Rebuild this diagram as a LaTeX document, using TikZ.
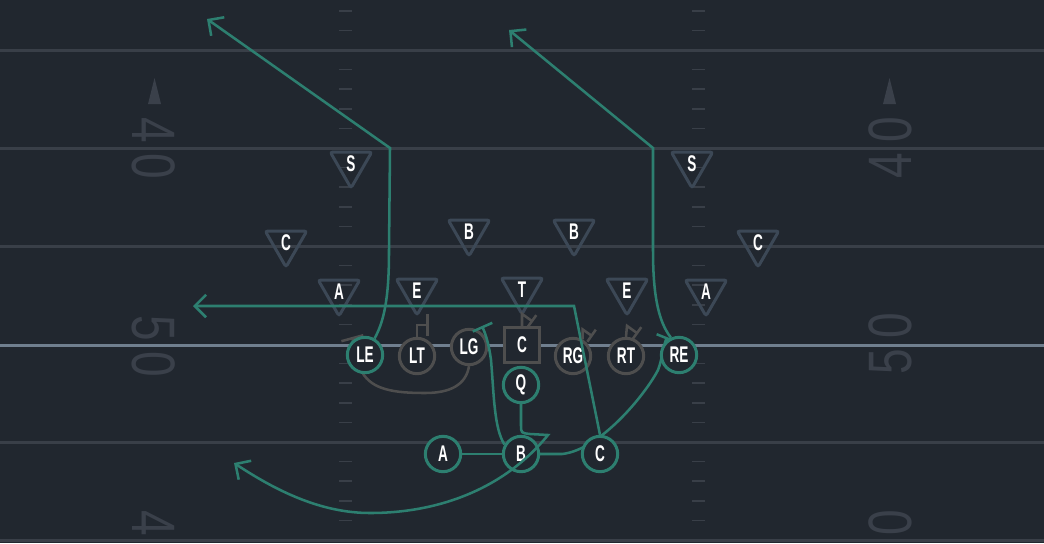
\documentclass[tikz,border=0pt]{standalone}
\usepackage{fontspec}
\usetikzlibrary{arrows.meta,shapes.geometric,backgrounds}
\newfontfamily\tagfont[FakeStretch=0.6]{Liberation Sans}
\newfontfamily\yardfont[FakeStretch=0.75]{Liberation Sans}
\definecolor{fieldbg}{RGB}{33,39,47}
\definecolor{yardcol}{RGB}{57,63,72}
\definecolor{scrimcol}{RGB}{112,127,143}
\definecolor{numcol}{RGB}{58,64,74}
\definecolor{defcol}{RGB}{60,72,86}
\definecolor{routecol}{RGB}{45,127,112}
\definecolor{olcol}{RGB}{78,78,78}
\tikzset{
  yardline/.style={draw=yardcol, line width=2.25pt},
  hashmark/.style={draw=yardcol, line width=1.1pt},
  yardnum/.style={text=numcol, inner sep=0pt, font=\yardfont\fontsize{46}{46}\selectfont},
  offense/.style={circle, draw=routecol, fill=fieldbg, line width=2.25pt, minimum size=26.5pt, inner sep=0pt, text=white, font=\tagfont\bfseries\fontsize{17}{17}\selectfont},
  lineman/.style={offense, draw=olcol},
  defender/.style={regular polygon, regular polygon sides=3, shape border rotate=180, draw=defcol, line width=2.25pt, minimum size=36pt, inner sep=0pt, rounded corners=2pt, text=white, font=\tagfont\bfseries\fontsize{17}{17}\selectfont},
  route/.style={draw=routecol, line width=1.9pt, -{Straight Barb[length=8.5pt,width=17pt]}},
  blockroute/.style={draw=routecol, line width=1.9pt, -{Bar[width=16pt]}},
  olblock/.style={draw=olcol, line width=1.9pt, -{Bar[width=11pt]}}
}

\begin{document}
\begin{tikzpicture}[x=0.75pt, y=-0.75pt]
\useasboundingbox (0,0) rectangle (1044,543);
% Field:
\begin{scope}[on background layer]
\fill[fieldbg] (0,0) rectangle (1044,543);
\foreach \y in {50,148,246,442,540}
  \draw[yardline] (0,\y) -- (1044,\y);
\draw[yardline, draw=scrimcol] (0,345) -- (1044,345);
\foreach \m in {-1,...,4}
  \foreach \j in {1,...,4} {
    \draw[hashmark] (339,50+98*\m+19.6*\j) -- (352,50+98*\m+19.6*\j);
    \draw[hashmark] (692,50+98*\m+19.6*\j) -- (705,50+98*\m+19.6*\j);
  }
\end{scope}
\node (n40l) [yardnum, rotate=-90] at (154,148) {4\kern8pt 0};
\node (n50l) [yardnum, rotate=-90] at (154,346) {5\kern8pt 0};
\node (n45l) [yardnum, rotate=-90] at (154,541) {4\kern8pt 0};
\node (n40r) [yardnum, rotate=90] at (890,148) {4\kern8pt 0};
\node (n50r) [yardnum, rotate=90] at (890,344) {5\kern8pt 0};
\node (n45r) [yardnum, rotate=90] at (890,541) {4\kern8pt 0};
\fill[numcol] (154.5,78) -- (161,104) -- (148,104) -- cycle;
\fill[numcol] (889.5,78) -- (896,104) -- (883,104) -- cycle;

% Defense:
\node (SL) [defender] at (351,164) {S};
\node (SR) [defender] at (692,164) {S};
\node (CL) [defender] at (286,243) {C};
\node (CR) [defender] at (758,243) {C};
\node (BL) [defender] at (469,232) {B};
\node (BR) [defender] at (574,232) {B};
\node (AL) [defender] at (339,292) {A};
\node (AR) [defender] at (706,292) {A};
\node (EL) [defender] at (417,291) {E};
\node (ER) [defender] at (627,291) {E};
\node (DT) [defender] at (522,290) {T};

% Offense:
\node (LE) [offense] at (365,355) {LE};
\node (LT) [lineman] at (417,356) {LT};
\node (LG) [lineman] at (469,347) {LG};
\node (Cn) [lineman, rectangle] at (522,345) {C};
\node (RG) [lineman] at (573,356) {RG};
\node (RT) [lineman] at (626,356) {RT};
\node (RE) [offense] at (679,355) {RE};
\node (QB) [offense] at (521,385) {Q};
\node (HA) [offense] at (443,454) {A};
\node (HB) [offense] at (521,454) {B};
\node (HC) [offense] at (600,454) {C};

\coordinate (leEnd) at (207,19);
\coordinate (reEnd) at (509,30);
\coordinate (cEnd) at (193,306);
\coordinate (qEnd) at (234,463);
\coordinate (bEnd) at (482,326);
\coordinate (rebEnd) at (667,337);
\coordinate (lgEnd) at (352,337);

% Routes under the players:
\begin{scope}[on background layer]
\draw[olblock, -{Bar[width=17pt]}] (LG.south) .. controls (466,385) and (450,393) .. (425,393) .. controls (395,393) and (372,390) .. (362,372) .. controls (357,362) and (355,348) .. (lgEnd);
\draw[blockroute] (HB.east) -- (562,454) .. controls (600,450) and (645,395) .. (658,370) .. controls (662,360) and (663,347) .. (rebEnd);
\end{scope}

% Routes:
\draw[route] (LE.60) .. controls (386,318) and (389,290) .. (389,250) -- (390,148) -- (leEnd);
\draw[route] (RE.115) .. controls (657,320) and (653,290) .. (653,250) -- (653,148) -- (reEnd);
\draw[route] (HC.north) -- (574,306) -- (cEnd);
\draw[route] (QB.south) -- (521,425) .. controls (521,433) .. (530,434) -- (548,435) .. controls (505,488) and (440,513) .. (370,513) .. controls (320,513) and (275,490) .. (qEnd);
\draw[blockroute] (HB.150) .. controls (494,428) and (494,395) .. (491,360) .. controls (489,345) and (486,335) .. (bEnd);
\draw[route, -] (HA) -- (HB);

% Blocks:
\draw[olblock, -{Bar[width=16pt]}] (LT.north) -- (417,325) -- (429,325);
\draw[olblock] (Cn.north) -- ++(0,-12) -- ++(11,8);
\draw[olblock] (RG.60) -- ++(0,-10) -- ++(10,7);
\draw[olblock] (RT.north) -- ++(1,-11) -- ++(11,8);
\end{tikzpicture}
\end{document}
